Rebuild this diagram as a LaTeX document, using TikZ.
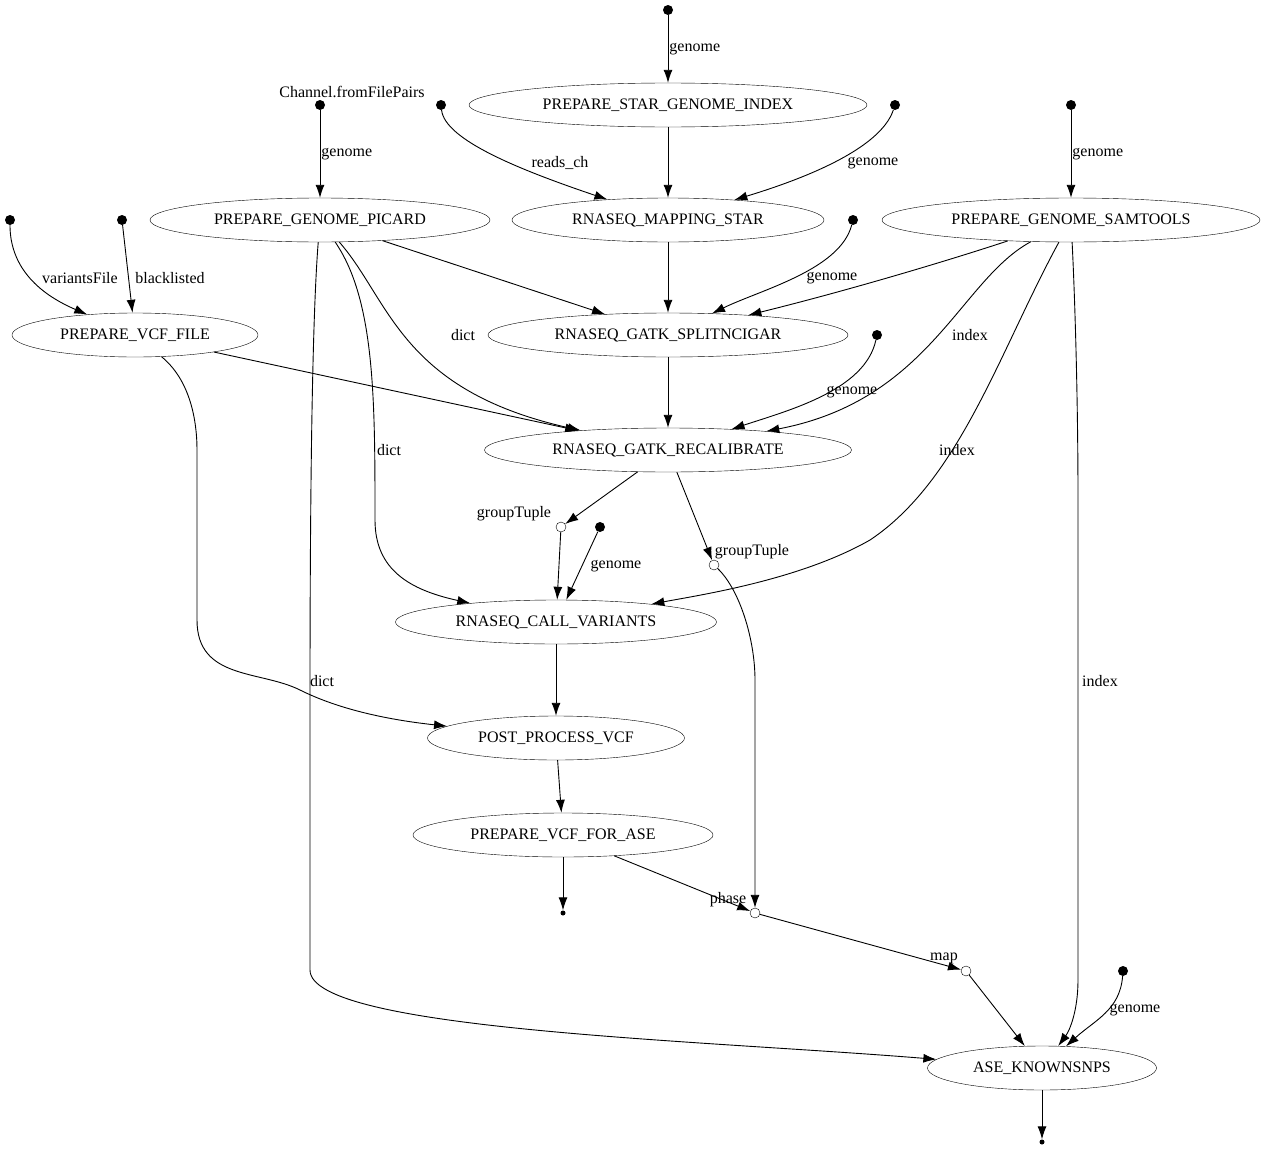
\documentclass[tikz,border=0pt]{standalone}
\usepackage{fontspec}
\setmainfont{Liberation Serif}
\usetikzlibrary{arrows.meta,shapes.geometric}
\begin{document}
\begin{tikzpicture}[x=1pt,y=-1pt,
  p/.style={ellipse,draw,inner sep=0pt,minimum height=44pt,font=\fontsize{16}{18}\selectfont},
  d/.style={circle,fill,inner sep=0pt,minimum size=10pt},
  sd/.style={circle,fill,inner sep=0pt,minimum size=5pt},
  o/.style={circle,draw,fill=white,inner sep=0pt,minimum size=10pt},
  e/.style={-{Latex[length=13pt,width=9pt]},line width=0.9pt},
  l/.style={font=\fontsize{16}{18}\selectfont,inner sep=1pt},
  every node/.append style={font=\fontsize{16}{18}\selectfont}]
\useasboundingbox (0,0) rectangle (1267,1151);
\node[d] (t) at (668,10) {};
\node[p,minimum width=398pt] (si) at (668,105) {PREPARE\_STAR\_GENOME\_INDEX};
\node[l] (cf) at (352,92) {Channel.fromFilePairs};
\node[d] (d320) at (320,105) {};
\node[d] (d441) at (441,105) {};
\node[d] (d895) at (895,105) {};
\node[d] (d1071) at (1071,105) {};
\node[p,minimum width=340pt] (pic) at (320,220) {PREPARE\_GENOME\_PICARD};
\node[p,minimum width=312pt] (ms) at (668,220) {RNASEQ\_MAPPING\_STAR};
\node[p,minimum width=378pt] (sam) at (1071,220) {PREPARE\_GENOME\_SAMTOOLS};
\node[d] (d10) at (10,220) {};
\node[d] (d122) at (122,220) {};
\node[d] (d853) at (853,220) {};
\node[p,minimum width=246pt] (vcf) at (135,335) {PREPARE\_VCF\_FILE};
\node[p,minimum width=360pt] (spl) at (668,335) {RNASEQ\_GATK\_SPLITNCIGAR};
\node[d] (d877) at (877,335) {};
\node[p,minimum width=367pt] (rec) at (668,450) {RNASEQ\_GATK\_RECALIBRATE};
\node[o] (g1) at (561,527) {};
\node[d] (d600) at (600,527) {};
\node[o] (g2) at (714,565) {};
\node[p,minimum width=321pt] (cv) at (556,622) {RNASEQ\_CALL\_VARIANTS};
\node[p,minimum width=257pt] (pp) at (556,738) {POST\_PROCESS\_VCF};
\node[p,minimum width=300pt] (fa) at (563,835) {PREPARE\_VCF\_FOR\_ASE};
\node[sd] (e1) at (563,913) {};
\node[o] (ph) at (755,913) {};
\node[o] (mp) at (966,971) {};
\node[d] (d1123) at (1123,971) {};
\node[p,minimum width=229pt] (ase) at (1042,1068) {ASE\_KNOWNSNPS};
\node[sd] (e2) at (1042,1142) {};

\draw[e] (t) -- node[l,right]{genome} (si);
\draw[e] (si) -- (ms);
\draw[e] (d441) .. controls (445,140) and (520,170) .. (ms);
\node[l] at (560,163) {reads\_ch};
\draw[e] (d895) .. controls (880,150) and (800,180) .. (ms);
\node[l] at (873,163) {genome};
\draw[e] (d320) -- node[l,right]{genome} (pic);
\draw[e] (d1071) -- node[l,right]{genome} (sam);
\draw[e] (d10) .. controls (10,260) and (30,290) .. (vcf);
\node[l] at (80,278) {variantsFile};
\draw[e] (d122) -- (vcf);
\node[l] at (170,278) {blacklisted};
\draw[e] (pic) -- (spl);
\draw[e] (ms) -- (spl);
\draw[e] (d853) .. controls (840,270) and (760,290) .. (spl);
\node[l] at (832,278) {genome};
\draw[e] (sam) .. controls (950,260) and (850,290) .. (spl);
\draw[e] (pic) .. controls (390,300) and (400,390) .. (rec);
\node[l] at (463,335) {dict};
\draw[e] (spl) -- (rec);
\draw[e] (vcf) -- (rec);
\draw[e] (d877) .. controls (865,390) and (790,410) .. (rec);
\node[l] at (852,392) {genome};
\draw[e] (sam) .. controls (960,280) and (930,400) .. (rec);
\node[l] at (970,335) {index};
\draw[e] (pic) .. controls (375,300) and (375,400) .. (375,520) .. controls (375,570) and (410,590) .. (cv);
\node[l] at (389,450) {dict};
\draw[e] (sam) .. controls (1000,350) and (960,480) .. (870,540) .. controls (800,580) and (700,595) .. (cv);
\node[l] at (957,450) {index};
\draw[e] (rec) -- (g1);
\node[l] at (514,514) {groupTuple};
\draw[e] (g1) -- (cv);
\draw[e] (d600) -- (cv);
\node[l] at (616,566) {genome};
\draw[e] (rec) -- (g2);
\node[l] at (752,552) {groupTuple};
\draw[e] (cv) -- (pp);
\draw[e] (vcf) .. controls (190,380) and (197,420) .. (197,450) -- (197,620) .. controls (197,680) and (260,670) .. (300,690) .. controls (340,710) and (390,720) .. (pp);
\draw[e] (pp) -- (fa);
\draw[e] (fa) -- (e1);
\draw[e] (fa) -- (ph);
\node[l] at (728,900) {phase};
\draw[e] (g2) .. controls (740,590) and (755,640) .. (755,680) -- (ph);
\draw[e] (ph) -- (mp);
\node[l] at (944,958) {map};
\draw[e] (mp) -- (ase);
\draw[e] (sam) .. controls (1075,300) and (1078,400) .. (1078,500) -- (1078,980) .. controls (1078,1010) and (1070,1030) .. (ase);
\node[l] at (1100,681) {index};
\draw[e] (d1123) .. controls (1120,1010) and (1095,1020) .. (ase);
\node[l] at (1135,1010) {genome};
\draw[e] (pic) .. controls (312,320) and (310,500) .. (310,700) -- (310,970) .. controls (310,1030) and (700,1040) .. (ase);
\node[l] at (322,681) {dict};
\draw[e] (ase) -- (e2);
\end{tikzpicture}
\end{document}
